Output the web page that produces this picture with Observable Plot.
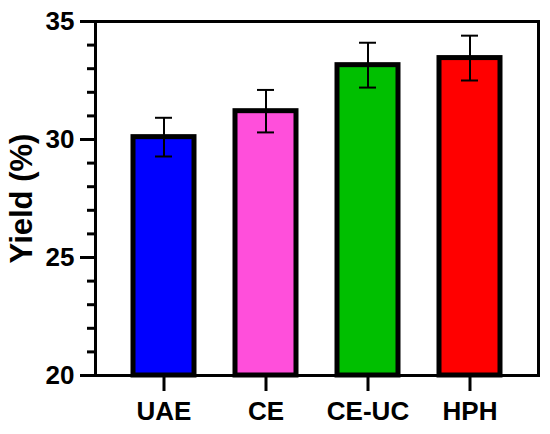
<!DOCTYPE html>
<html>
<head>
<meta charset="utf-8">
<script src="https://cdn.jsdelivr.net/npm/d3@7"></script>
<script src="https://cdn.jsdelivr.net/npm/@observablehq/plot@0.6"></script>
<style>
  body { margin: 0; background: #fff; }
</style>
</head>
<body>
<div id="chart"></div>
<script>
const groups = ["UAE", "CE", "CE-UC", "HPH"];
const yields = [30.1, 31.2, 33.15, 33.45];
const errors = [0.82, 0.9, 0.95, 0.95];
const colors = ["#0000ff", "#ff4fdb", "#00bf00", "#ff0000"];
const majorTicks = [20, 25, 30, 35];
const minorTicks = d3.range(20, 36).filter((v) => v % 5 !== 0);

const data = groups.map((name, i) => ({
  name,
  value: yields[i],
  lo: yields[i] - errors[i],
  hi: yields[i] + errors[i],
}));

const font = "Liberation Sans, Arial, sans-serif";

const plot = Plot.plot({
  width: 550,
  height: 434,
  marginLeft: 95,
  marginRight: 12,
  marginTop: 21,
  marginBottom: 59,
  style: { fontFamily: font, background: "#fff", color: "#000" },
  x: { domain: groups, paddingInner: 0.4, paddingOuter: 0.37 },
  y: { domain: [20, 35] },
  color: { domain: groups, range: colors },
  marks: [
    Plot.barY(data, {
      x: "name",
      y1: 20,
      y2: "value",
      fill: "name",
      stroke: "#000",
      strokeWidth: 5,
    }),
    Plot.ruleX(data, { x: "name", y1: "lo", y2: "hi", stroke: "#000", strokeWidth: 2 }),
    Plot.tickY(data, { x: "name", y: "hi", stroke: "#000", strokeWidth: 2, inset: 22 }),
    Plot.tickY(data, { x: "name", y: "lo", stroke: "#000", strokeWidth: 2, inset: 22 }),
    Plot.frame({ stroke: "#000", strokeWidth: 3 }),
    Plot.axisY({
      ticks: minorTicks,
      tickSize: 8,
      tickFormat: () => "",
      strokeWidth: 3,
      label: null,
    }),
    Plot.axisY({
      ticks: majorTicks,
      tickSize: 15,
      tickPadding: 6,
      strokeWidth: 3,
      fontSize: 26,
      fontWeight: "bold",
      label: null,
    }),
    Plot.axisX({
      tickSize: 16,
      tickPadding: 10,
      strokeWidth: 3,
      fontSize: 26,
      fontWeight: "bold",
      label: null,
    }),
    Plot.text(["Yield (%)"], {
      frameAnchor: "left",
      textAnchor: "middle",
      lineAnchor: "middle",
      rotate: -90,
      dx: -73,
      fontSize: 31,
      fontWeight: "bold",
      fill: "#000",
    }),
  ],
});

document.getElementById("chart").appendChild(plot);
</script>
</body>
</html>
